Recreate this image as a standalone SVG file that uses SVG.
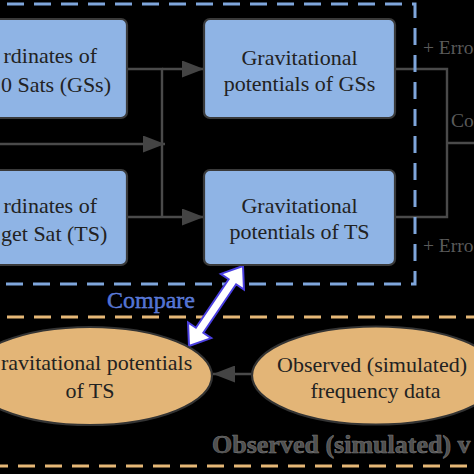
<svg xmlns="http://www.w3.org/2000/svg" width="474" height="474" viewBox="0 0 474 474">
<defs>
<style>
.box{fill:#8fb4e5;stroke:#3a3a3a;stroke-width:2.2}
.ell{fill:#e3b577;stroke:#333;stroke-width:2.2}
.t{font-family:"Liberation Serif","Times New Roman","DejaVu Serif","Noto Serif",serif;font-size:22px;fill:#222}
.lbl{font-family:"Liberation Serif","Times New Roman","DejaVu Serif","Noto Serif",serif;font-size:19.5px;fill:#5a5a5a}
.cmp{font-family:"Liberation Serif","Times New Roman","DejaVu Serif","Noto Serif",serif;font-size:24px;fill:#4c6fd3;stroke:#6f8de6;stroke-width:0.4}
.obs{font-family:"Liberation Serif","Times New Roman","DejaVu Serif","Noto Serif",serif;font-size:26px;font-weight:bold;fill:#4f4f4f;stroke:#777;stroke-width:0.6}
.ln{fill:none;stroke:#4a4a4a;stroke-width:2.4}
</style>
<marker id="ah" viewBox="0 0 22 17" refX="22" refY="8.5" markerWidth="22" markerHeight="17" markerUnits="userSpaceOnUse" orient="auto">
<path d="M0,0 L22,8.5 L0,17 Z" fill="#444"/>
</marker>
</defs>
<rect x="0" y="0" width="474" height="474" fill="#000"/>
<g id="connectors">
<path class="ln" d="M127,69 H162 V217"/>
<line class="ln" x1="162" y1="69" x2="204" y2="69" marker-end="url(#ah)"/>
<line class="ln" x1="-5" y1="144" x2="165" y2="144" marker-end="url(#ah)"/>
<line class="ln" x1="127" y1="217" x2="204" y2="217" marker-end="url(#ah)"/>
<path class="ln" d="M395,69 H447 V217 H395"/>
<line class="ln" x1="447" y1="143" x2="480" y2="143"/>
<line class="ln" x1="252" y1="374" x2="213" y2="374" marker-end="url(#ah)"/>
</g>
<g id="frames">
<rect x="-20" y="4" width="435" height="280" fill="none" stroke="#7fa6dc" stroke-width="3" stroke-dasharray="17,10"/>
<rect x="-20" y="317" width="520" height="149" fill="none" stroke="#e6b877" stroke-width="3" stroke-dasharray="17,10"/>
</g>
<g id="compare-arrow">
<polygon points="189,346 211.24,338.08 203.36,332.77 236.10,284.27 243.98,289.58 243,266 220.76,273.92 228.64,279.23 195.90,327.73 188.02,322.42" fill="#fff" stroke="#4a3fe0" stroke-width="2"/>
</g>
<g id="n-gs-coords">
<rect class="box" x="-20" y="19" width="147" height="99" rx="6"/>
<text class="t" x="97" y="63" text-anchor="end">rdinates of</text>
<text class="t" x="1" y="92">0 Sats (GSs)</text>
</g>
<g id="n-ts-coords">
<rect class="box" x="-20" y="170" width="147" height="95" rx="6"/>
<text class="t" x="97" y="213" text-anchor="end">rdinates of</text>
<text class="t" x="1" y="241">get Sat (TS)</text>
</g>
<g id="n-gs-pot">
<rect class="box" x="204" y="19" width="191" height="99" rx="6"/>
<text class="t" x="299.5" y="65" text-anchor="middle">Gravitational</text>
<text class="t" x="299.5" y="91" text-anchor="middle">potentials of GSs</text>
</g>
<g id="n-ts-pot">
<rect class="box" x="204" y="170" width="191" height="95" rx="6"/>
<text class="t" x="299.5" y="213" text-anchor="middle">Gravitational</text>
<text class="t" x="299.5" y="239" text-anchor="middle">potentials of TS</text>
</g>
<g id="labels">
<text class="lbl" x="423" y="54">+ Erro</text>
<text class="lbl" x="423" y="252">+ Erro</text>
<text class="lbl" x="451" y="127">Co</text>
<text class="cmp" x="107" y="308">Compare</text>
<text class="obs" x="212" y="453">Observed (simulated) v</text>
</g>
<g id="n-ts-pot-obs">
<ellipse class="ell" cx="90" cy="376" rx="122" ry="49"/>
<text class="t" x="1" y="370">ravitational potentials</text>
<text class="t" x="90" y="398" text-anchor="middle">of TS</text>
</g>
<g id="n-freq">
<ellipse class="ell" cx="376" cy="375.5" rx="124" ry="49"/>
<text class="t" x="372" y="372" text-anchor="middle">Observed (simulated)</text>
<text class="t" x="375.5" y="398" text-anchor="middle">frequency data</text>
</g>
</svg>
